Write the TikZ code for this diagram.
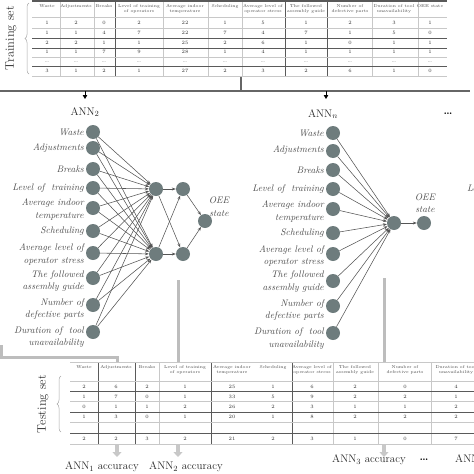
\documentclass[tikz,border=0pt]{standalone}
\usetikzlibrary{arrows.meta,decorations.pathreplacing}
\definecolor{nodegray}{HTML}{6E7C7D}
\definecolor{txtgray}{HTML}{4A4A4A}
\definecolor{linegray}{HTML}{555555}
\definecolor{biggray}{HTML}{BDBDBD}
\definecolor{tabdark}{HTML}{5A5A5A}
\definecolor{tablight}{HTML}{C8C8C8}
\begin{document}
\begin{tikzpicture}[x=1pt,y=-1pt,
  neuron/.style={circle,fill=nodegray,minimum size=14pt,inner sep=0pt},
  lab/.style={font=\fontsize{9.5}{12.5}\selectfont\itshape,text=txtgray,align=right,anchor=east,inner sep=0pt},
  conn/.style={draw=linegray,line width=0.55pt,-{Stealth[length=4pt,width=3pt]}},
  hdr/.style={font=\fontsize{4.2}{5.2}\selectfont,text=txtgray,align=center,inner sep=0pt},
  cell/.style={font=\fontsize{5}{6}\selectfont,text=black!80,inner sep=0pt},
  darkrule/.style={draw=tabdark,line width=0.9pt},
  lightrule/.style={draw=tablight,line width=0.5pt},
  distline/.style={draw=linegray!90,line width=1.4pt},
  smallarrow/.style={draw=black,line width=0.8pt,-{Triangle[length=4pt,width=4.5pt]}},
  feedline/.style={draw=biggray,line width=3pt},
  accarrow/.style={draw=tablight,line width=4pt,-{Triangle[length=5pt,width=9pt]}},
  title/.style={font=\fontsize{11}{13}\selectfont,text=black!85,inner sep=0pt},
  setlab/.style={font=\fontsize{12.5}{14}\selectfont,text=black!80,rotate=90,inner sep=0pt},
  bracestyle/.style={draw=gray!70,line width=0.5pt,decorate,decoration={brace,amplitude=4pt}}]
\useasboundingbox (0,0) rectangle (474,474);

% ================= training table =================
\def\topcols{{47,76,104,139,185,225,263,306,350,394,430}}
\def\toprows{{23,33,43,52,62,71}}
\foreach \x in {60,94,163,208,242,372,418} \draw[lightrule] (\x,1) -- (\x,76);
\foreach \x in {115,285,327} \draw[darkrule] (\x,1) -- (\x,76);
\draw[draw=tabdark,line width=1.6pt] (32,1) -- (447,1);
\foreach \y in {17,28,57,76} \draw[lightrule] (32,\y) -- (447,\y);
\foreach \y in {38,48,66} \draw[darkrule] (32,\y) -- (447,\y);
\foreach \h [count=\c] in {{Waste},{Adjustments},{Breaks},{Level of training\\of operators},{Average indoor\\temperature},{Scheduling},{Average level of\\operator stress},{The followed\\assembly guide},{Number of\\defective parts},{Duration of tool\\unavailability},{OEE state}}{
  \pgfmathsetmacro\cx{\topcols[\c-1]}
  \node[hdr,anchor=north] (th-\c) at (\cx,4) {\h};
}
\foreach \row [count=\r] in {{1,2,0,2,22,1,5,1,2,3,1},{1,1,4,7,22,7,4,7,1,5,0},{2,2,1,1,25,2,6,1,0,1,1},{1,1,7,9,28,1,4,1,1,1,1},{\ldots,\ldots,\ldots,\ldots,\ldots,\ldots,\ldots,\ldots,\ldots,\ldots,\ldots},{3,1,2,1,27,2,3,2,6,1,0}}{
  \pgfmathsetmacro\cy{\toprows[\r-1]}
  \foreach \v [count=\c] in \row {
    \pgfmathsetmacro\cx{\topcols[\c-1]}
    \node[cell] (tt-\r-\c) at (\cx,\cy) {\v};
  }
}
\draw[bracestyle] (29,74) -- (29,3);
\node[setlab] (trainlab) at (11,38) {Training set};

% distribution line
\coordinate (tb0) at (241,77);
\coordinate (tb1) at (241,91);
\coordinate (d0) at (0,91);
\coordinate (d1) at (470,91);
\draw[distline] (tb0) -- (tb1);
\draw[distline] (d0) -- (d1);
\coordinate (a2s) at (85,91);
\coordinate (a2e) at (85,99);
\coordinate (ans) at (326,91);
\coordinate (ane) at (326,99);
\draw[smallarrow] (a2s) -- (a2e);
\draw[smallarrow] (ans) -- (ane);

% ================= ANN_2 =================
\node[title] (ann2) at (85,112) {ANN$_2$};
\foreach \n/\cy/\ly/\t in {1/132/132/{Waste},2/148/148/{Adjustments},3/169/169/{Breaks},4/188/188/{Level of\ \ training},5/208/209.5/{Average indoor\\temperature},6/231/231/{Scheduling},7/253/254.5/{Average level of\\operator stress},8/278/281/{The followed\\assembly guide},9/305/309/{Number of\\defective parts},10/332/337/{Duration of\ \ tool\\unavailability}}{
  \node[neuron] (i\n) at (93,\cy) {};
  \node[lab] (l\n) at (84,\ly) {\t};
}
\node[neuron] (h1a) at (156,189) {};
\node[neuron] (h1b) at (156,254) {};
\node[neuron] (h2a) at (183,189) {};
\node[neuron] (h2b) at (183,254) {};
\node[neuron] (o2) at (205,221) {};
\node[lab,anchor=center,align=center] (oee2) at (219,206.5) {OEE\\state};
\foreach \n in {1,...,10}{
  \draw[conn] (i\n) -- (h1a);
  \draw[conn] (i\n) -- (h1b);
}
\draw[conn] (h1a) -- (h2a);
\draw[conn] (h1a) -- (h2b);
\draw[conn] (h1b) -- (h2a);
\draw[conn] (h1b) -- (h2b);
\draw[conn] (h2a) -- (o2);
\draw[conn] (h2b) -- (o2);

% ================= ANN_n =================
\node[title] (annn) at (323,114) {ANN$_n$};
\node[font=\bfseries\fontsize{11}{13}\selectfont,inner sep=0pt] (dots1) at (448,114) {\ldots};
\foreach \n/\cy/\ly/\t in {1/133/133/{Waste},2/151/150/{Adjustments},3/170/170/{Breaks},4/189/189/{Level of\ \ training},5/209/211.5/{Average indoor\\temperature},6/233/233/{Scheduling},7/254/256/{Average level of\\operator stress},8/281/281.5/{The followed\\assembly guide},9/306/310/{Number of\\defective parts},10/333/338.5/{Duration of\ \ tool\\unavailability}}{
  \node[neuron] (j\n) at (333,\cy) {};
  \node[lab] (m\n) at (324,\ly) {\t};
}
\node[neuron] (hn) at (394,223) {};
\node[neuron] (on) at (424,223) {};
\node[lab,anchor=center,align=center] (oeen) at (425,203) {OEE\\state};
\foreach \n in {1,...,10}{
  \draw[conn] (j\n) -- (hn);
}
\draw[conn] (hn) -- (on);
\node[lab,anchor=west] (frag) at (467,189) {Level of\ \ training};

% ================= feed lines =================
\coordinate (f1a) at (1.5,345);
\coordinate (f1b) at (1.5,357);
\coordinate (f1c) at (117,357);
\coordinate (f1d) at (117,362);
\draw[feedline] (f1a) -- (f1b) -- (f1c) -- (f1d);
\coordinate (f2a) at (178,280);
\coordinate (f2b) at (178,362);
\draw[feedline] (f2a) -- (f2b);
\coordinate (f3a) at (384,278);
\coordinate (f3b) at (384,362);
\draw[feedline] (f3a) -- (f3b);

% ================= testing table =================
\def\botcols{{84,116,147,185,232,273,312,355,405,456}}
\def\botrows{{387,396.5,406.5,417,438.5}}
\fill[white] (70,362) rectangle (480,444);
\foreach \x in {159,333,378,431} \draw[lightrule] (\x,362) -- (\x,444);
\foreach \x in {98,135,211,292} \draw[darkrule] (\x,362) -- (\x,444);
\foreach \y in {362,381,401.5,422,444} \draw[lightrule] (70,\y) -- (480,\y);
\foreach \y in {391.5,412,433} \draw[darkrule] (70,\y) -- (480,\y);
\foreach \h [count=\c] in {{Waste},{Adjustments},{Breaks},{Level of training\\of operators},{Average indoor\\temperature},{Scheduling},{Average level of\\operator stress},{The followed\\assembly guide},{Number of\\defective parts},{Duration of tool\\unavailability}}{
  \pgfmathsetmacro\cx{\botcols[\c-1]}
  \node[hdr,anchor=north] (bh-\c) at (\cx,365.5) {\h};
}
\foreach \row [count=\r] in {{2,6,2,1,25,1,6,2,0,4},{1,7,0,1,33,5,9,2,2,1},{0,1,1,2,26,2,3,1,1,2},{1,3,0,1,20,1,8,2,2,2},{2,2,3,2,21,2,3,1,0,7}}{
  \pgfmathsetmacro\cy{\botrows[\r-1]}
  \foreach \v [count=\c] in \row {
    \pgfmathsetmacro\cx{\botcols[\c-1]}
    \node[cell] (bt-\r-\c) at (\cx,\cy) {\v};
  }
}
\draw[bracestyle] (61,432) -- (61,376);
\node[setlab] (testlab) at (43,404) {Testing set};

% ================= accuracy arrows =================
\foreach \k/\x in {1/117,2/178,3/384}{
  \coordinate (acs\k) at (\x,445);
  \coordinate (ace\k) at (\x,457);
  \draw[accarrow] (acs\k) -- (ace\k);
}
\node[title] (acc1) at (102,467) {ANN$_1$ accuracy};
\node[title] (acc2) at (186,467) {ANN$_2$ accuracy};
\node[title] (acc3) at (369,460) {ANN$_3$ accuracy};
\node[font=\bfseries\fontsize{11}{13}\selectfont,inner sep=0pt] (dots2) at (424,460) {\ldots};
\node[title,anchor=west] (accn) at (455,460) {ANN$_n$ accuracy};
\end{tikzpicture}
\end{document}
